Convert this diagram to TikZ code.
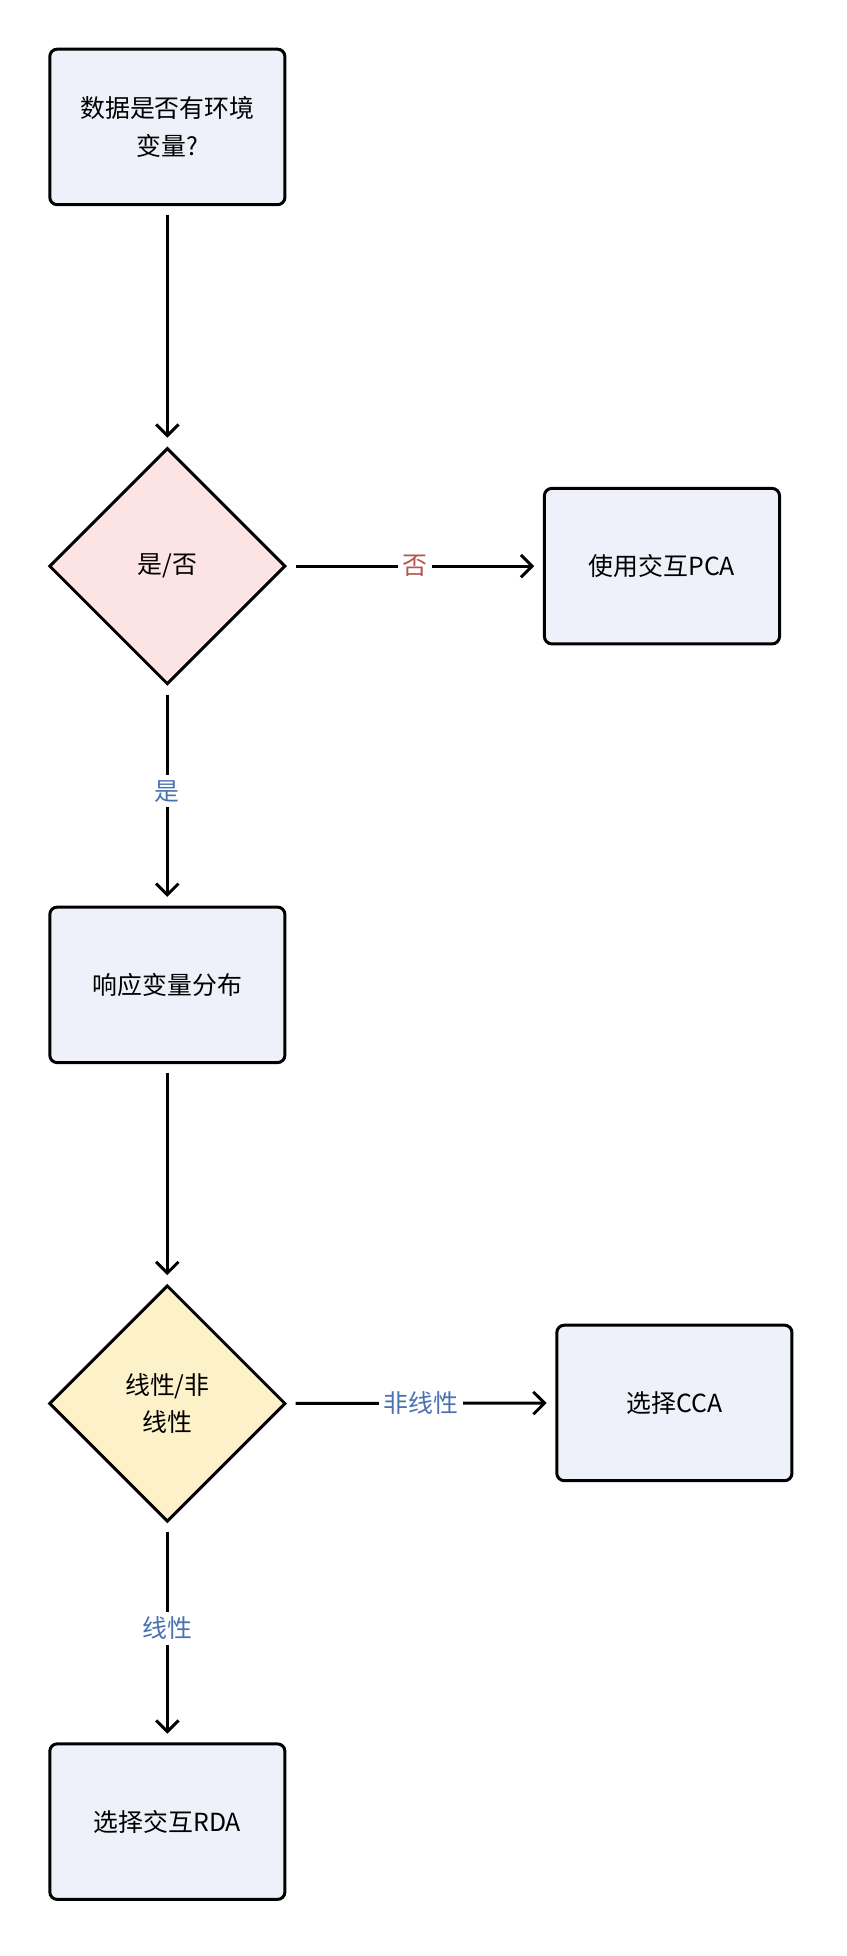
\documentclass[tikz,border=0pt]{standalone}
\usepackage{fontspec}
\setmainfont{Noto Sans CJK SC}
\usetikzlibrary{shapes.geometric,arrows.meta}
\definecolor{boxfill}{HTML}{EEF1FA}
\definecolor{pinkfill}{HTML}{FDE4E4}
\definecolor{yelfill}{HTML}{FDF1CA}
\definecolor{nored}{HTML}{B85450}
\definecolor{yesblue}{HTML}{4A72B0}
\begin{document}
\begin{tikzpicture}[x=1pt,y=-1pt,
  box/.style={draw=black,line width=2.4pt,rounded corners=6pt,fill=boxfill,minimum width=189pt,minimum height=125pt,align=center,font=\fontsize{20}{30}\selectfont,inner sep=0pt},
  dia/.style={draw=black,line width=2.4pt,diamond,minimum width=190pt,minimum height=190pt,align=center,font=\fontsize{20}{30}\selectfont,inner sep=0pt},
  arr/.style={draw=black,line width=2.4pt,-{Straight Barb[length=9pt,width=18pt]},shorten <=7pt,shorten >=7pt},
  lab/.style={fill=white,font=\fontsize{20}{24}\selectfont,inner sep=4pt}]
\useasboundingbox (0,0) rectangle (680,1572);
\node[box] (b1) at (134.5,102) {数据是否有环境\\变量?};
\node[dia,fill=pinkfill] (d1) at (134.5,455) {是/否};
\node[box] (pca) at (532,455) {使用交互PCA};
\node[box] (b2) at (134.5,791.5) {响应变量分布};
\node[dia,fill=yelfill] (d2) at (134.5,1128) {线性/非\\线性};
\node[box] (cca) at (542,1127.5) {选择CCA};
\node[box] (rda) at (134.5,1464) {选择交互RDA};
\draw[arr] (b1) -- (d1);
\draw[arr] (d1) -- node[lab,text=nored]{否} (pca);
\draw[arr] (d1) -- node[lab,text=yesblue,pos=0.48]{是} (b2);
\draw[arr] (b2) -- (d2);
\draw[arr] (d2) -- node[lab,text=yesblue]{非线性} (cca);
\draw[arr] (d2) -- node[lab,text=yesblue,pos=0.48]{线性} (rda);
\end{tikzpicture}
\end{document}
